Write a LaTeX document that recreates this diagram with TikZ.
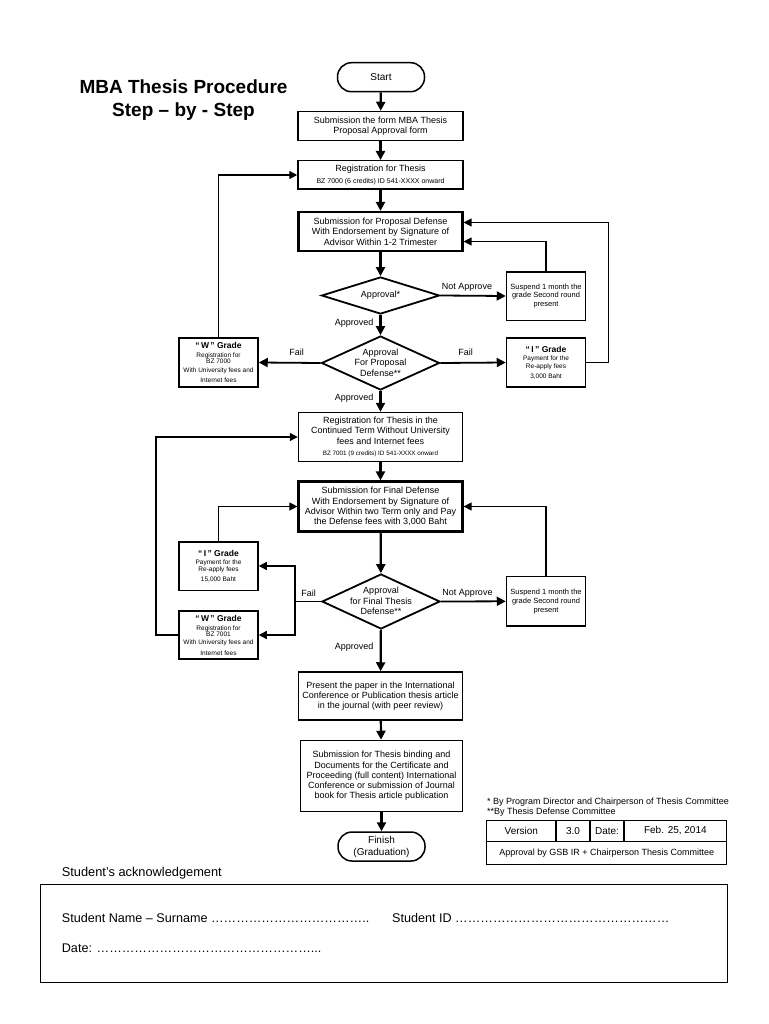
\documentclass[tikz,border=0pt]{standalone}
\usepackage{fontspec}
\setmainfont{Liberation Sans}
\usetikzlibrary{shapes.geometric,arrows.meta}
\newcommand\myfs[2]{\fontsize{#1}{#2}\selectfont}
\newcommand\gradefont{\fontsize{6.5}{6.2}\selectfont\lineskiplimit=-5pt\relax}
\newcommand\myfourdots{…………}
\begin{document}
\begin{tikzpicture}[x=1pt,y=-1pt,
  box/.style={draw, line width=1.5pt, align=center, inner sep=0pt, font=\myfs{9}{10.3}},
  tbox/.style={box, line width=2.2pt},
  dia/.style={draw, shape=diamond, line width=1.8pt, inner sep=0pt, minimum width=118pt},
  term/.style={draw, line width=1.5pt, rounded corners=14pt, minimum width=87pt, minimum height=29pt, align=center, inner sep=0pt, font=\myfs{10}{12}},
  grade/.style={box, minimum width=79pt, font=\gradefont},
  susp/.style={box, minimum width=79pt, font=\myfs{7.5}{8.8}},
  main/.style={-{Triangle[length=9pt,width=9pt]}, line width=2.2pt},
  side/.style={-{Triangle[length=8pt,width=8pt]}, line width=1.3pt},
  horiz/.style={-{Triangle[length=9pt,width=9pt]}, line width=1.8pt},
  lbl/.style={font=\myfs{9}{10}, inner sep=0pt}]
\fill[white] (0,0) rectangle (768,1024);
\useasboundingbox (0,0) rectangle (768,1024);

% title
\node[align=center, font=\bfseries\myfs{19}{23}, inner sep=0pt] (title) at (183.5,100.5) {MBA Thesis Procedure\\Step – by - Step};

% main column
\node[term] (start) at (381,77.2) {Start};
\node[box, minimum width=165pt, minimum height=29pt] (b1) at (380.5,126) {Submission the form MBA Thesis\\Proposal Approval form};
\node[box, minimum width=165pt, minimum height=28.5pt] (b2) at (380.5,175) {Registration for Thesis\\[1.7pt]{\myfs{7}{8}BZ 7000 (6 credits) ID 541-XXXX onward}};
\node[tbox, minimum width=164pt, minimum height=39pt] (b3) at (380.5,231.5) {Submission for Proposal Defense\\With Endorsement by Signature of\\Advisor Within 1-2 Trimester};
\node[dia, minimum height=37pt] (d1) at (380.5,295.5) {};
\node[lbl] (d1t) at (380.5,295.5) {Approval*};
\node[susp, minimum height=48.5pt] (n1) at (546,296) {Suspend 1 month the\\grade Second round\\present};
\node[dia, minimum height=54pt] (d2) at (380.5,363) {};
\node[lbl, align=center, font=\myfs{9}{10.3}] (d2t) at (380.5,362.5) {Approval\\For Proposal\\Defense**};
\node[grade, minimum height=49pt] (wg1) at (218.5,362.5) {{\bfseries\myfs{8.5}{9}“\,W\,” Grade}\\[2.4pt]Registration for\\[-0.5pt]BZ 7000\\[2.8pt]With University fees and\\[3.8pt]Internet fees};
\node[grade, minimum height=49pt] (ig1) at (546,362.5) {{\bfseries\myfs{8.5}{9}“\,I\,” Grade}\\[1.8pt]Payment for the\\[1.8pt]Re-apply fees\\[3.8pt]3,000 Baht};
\node[box, minimum width=164pt, minimum height=49pt] (b4) at (380.5,437) {Registration for Thesis in the\\Continued Term Without University\\fees and Internet fees\\[1pt]{\myfs{6.3}{7}BZ 7001 (9 credits) ID 541-XXXX onward}};
\node[tbox, minimum width=164pt, minimum height=50pt] (b5) at (380.5,506.5) {Submission for Final Defense\\With Endorsement by Signature of\\Advisor Within two Term only and Pay\\the Defense fees with 3,000 Baht};
\node[dia, minimum height=55pt] (d3) at (381,601.5) {};
\node[lbl, align=center, font=\myfs{9}{10.3}] (d3t) at (381,601) {Approval\\for Final Thesis\\Defense**};
\node[susp, minimum height=49.3pt] (n2) at (546,601.3) {Suspend 1 month the\\grade Second round\\present};
\node[grade, minimum height=48.5pt] (ig2) at (218.5,566) {{\bfseries\myfs{8.5}{9}“\,I\,” Grade}\\[1.8pt]Payment for the\\[1.1pt]Re-apply fees\\[3.8pt]15,000 Baht};
\node[grade, minimum height=48pt] (wg2) at (218.5,635) {{\bfseries\myfs{8.5}{9}“\,W\,” Grade}\\[3.1pt]Registration for\\[-0.6pt]BZ 7001\\[2.5pt]With University fees and\\[4.1pt]Internet fees};
\node[box, minimum width=164pt, minimum height=48pt] (b6) at (380.5,696) {Present the paper in the International\\Conference or Publication thesis article\\in the journal (with peer review)};
\node[box, minimum width=162pt, minimum height=71pt] (b7) at (381.5,776) {Submission for Thesis binding and\\Documents for the Certificate and\\Proceeding (full content) International\\Conference or submission of Journal\\book for Thesis article publication};
\node[term] (finish) at (381.5,846.5) {Finish\\(Graduation)};

% main flow
\draw[main] (start) -- (b1);
\draw[main] (b1) -- (b2);
\draw[main] (b2) -- (b3);
\draw[main] (b3) -- (d1);
\draw[main] (d1) -- (d2);
\draw[main] (d2) -- (b4);
\draw[main] (b4) -- (b5);
\draw[main] (b5) -- (d3);
\draw[main] (d3) -- (b6);
\draw[main] (b6) -- (b7);
\draw[main] (b7) -- (finish);

% branches
\draw[horiz] (d1.east) -- (n1.west);
\draw[horiz] (d2.west) -- (wg1.east);
\draw[horiz] (d2.east) -- (ig1.west);
\draw[horiz] (d3.east) -- (n2.west);
\coordinate (j3) at (295,601.5);
\draw[line width=1.3pt] (d3.west) -- (j3);
\draw[side] (j3) |- (ig2.east);
\draw[side] (j3) |- (wg2.east);

% loops
\draw[side] (wg1.north) |- (b2.west);
\draw[side] (n1.north) |- ([yshift=-10pt]b3.east);
\coordinate (r1) at (608.5,362.5);
\draw[side] (ig1.east) -- (r1) |- ([yshift=9pt]b3.east);
\coordinate (l1) at (156,635);
\draw[side] (wg2.west) -- (l1) |- (b4.west);
\draw[side] (ig2.north) |- (b5.west);
\draw[side] (n2.north) |- (b5.east);

% labels
\node[lbl] (na1) at (467,287.7) {Not Approve};
\node[lbl, anchor=east] (ap1) at (373.5,322.7) {Approved};
\node[lbl] (f1) at (296.5,352) {Fail};
\node[lbl] (f2) at (465.5,352) {Fail};
\node[lbl, anchor=east] (ap2) at (373.5,398) {Approved};
\node[lbl] (f3) at (308.5,593.3) {Fail};
\node[lbl] (na2) at (467.5,593) {Not Approve};
\node[lbl, anchor=east] (ap3) at (373.5,647.3) {Approved};

% footnotes and table
\node[lbl, anchor=west] (fn1) at (487,801.7) {* By Program Director and Chairperson of Thesis Committee};
\node[lbl, anchor=west] (fn2) at (487,812.3) {**By Thesis Defense Committee};
\tikzset{cell/.style={draw, line width=1.2pt, inner sep=0pt, minimum height=21.7pt, font=\myfs{10}{12}}}
\node[cell, minimum width=69.3pt] (t1) at (521.35,831) {Version};
\node[cell, minimum width=34pt] (t2) at (573,831) {3.0};
\node[cell, minimum width=34pt] (t3) at (607,831) {Date:};
\node[cell, minimum width=102.7pt] (t4) at (675.35,831) {Feb. 25, 2014};
\node[cell, minimum width=240pt, minimum height=22.3pt, font=\myfs{9}{11}] (t5) at (606.7,853) {Approval by GSB IR + Chairperson Thesis Committee};

% acknowledgement
\node[anchor=west, inner sep=0pt, font=\myfs{12.8}{14}] (ackt) at (61.7,872.7) {Student's acknowledgement};
\node[draw, line width=1.2pt, minimum width=687pt, minimum height=98.4pt, inner sep=0pt] (ack) at (384,933.5) {};
\node[anchor=west, inner sep=0pt, font=\myfs{12.6}{14}] (sname) at (61.7,918.3) {Student Name – Surname \myfourdots\myfourdots\myfourdots..};
\node[anchor=west, inner sep=0pt, font=\myfs{12.6}{14}] (sid) at (392,918.3) {Student ID \myfourdots\myfourdots\myfourdots\myfourdots…};
\node[anchor=west, inner sep=0pt, font=\myfs{12.6}{14}] (sdate) at (61.7,948.3) {Date: \myfourdots\myfourdots\myfourdots\myfourdots…...};
\end{tikzpicture}
\end{document}
